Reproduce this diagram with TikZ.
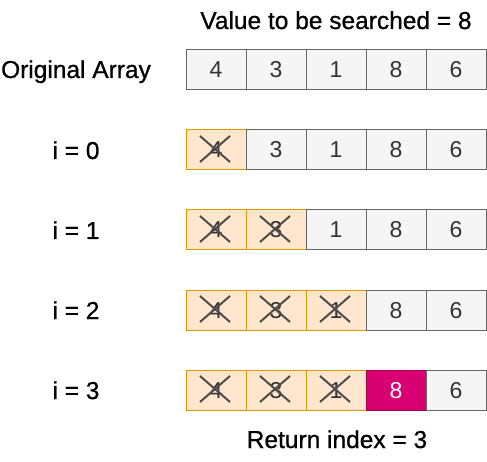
\documentclass[tikz,border=0pt]{standalone}
\usepackage{fontspec}
\setmainfont{Liberation Sans}
\newfontfamily\labelfont[FakeBold=0.8]{Liberation Sans}
\definecolor{gfill}{HTML}{F5F5F5}
\definecolor{gline}{HTML}{666666}
\definecolor{gtext}{HTML}{333333}
\definecolor{ofill}{HTML}{FFE6CC}
\definecolor{oline}{HTML}{D79B00}
\definecolor{pfill}{HTML}{D80073}
\definecolor{pline}{HTML}{A50040}
\definecolor{xline}{HTML}{4D4D4D}
\tikzset{
  cellbox/.style={draw=gline, fill=gfill, line width=1pt},
  donebox/.style={draw=oline, fill=ofill, line width=1pt},
  foundbox/.style={draw=pline, fill=pfill, line width=1pt},
  digit/.style={anchor=base, font=\fontsize{23}{26}\selectfont, text=gtext, inner sep=0pt},
  label/.style={anchor=base, font=\labelfont\fontsize{24.5}{28}\selectfont, text=black, inner sep=0pt},
  crossline/.style={draw=xline, line width=2pt},
}
\begin{document}
\begin{tikzpicture}[x=1pt,y=-1pt]
\useasboundingbox (0,0) rectangle (487,462);
\node[label] (title) at (336,29) {Value to be searched = 8};
\node[label] (orig) at (76,78) {Original Array};
\node[label] (ret) at (337,448) {Return index = 3};
% rows
\foreach \r/\lab in {0/Original Array, 1/{i = 0}, 2/{i = 1}, 3/{i = 2}, 4/{i = 3}} {
  \pgfmathsetmacro{\yt}{50+80*\r}
  \pgfmathtruncatemacro{\ncross}{min(\r,3)}
  \ifnum\r>0
    \node[label] (lab\r) at (76,\yt+29) {\lab};
  \fi
  \foreach \c/\v in {0/4,1/3,2/1,3/8,4/6} {
    \pgfmathsetmacro{\xl}{186+60*\c}
    \ifnum\c<\ncross
      \path[donebox] (\xl,\yt) rectangle ++(60,40);
      \node[digit] (d\r\c) at (\xl+30,\yt+28) {\v};
      \draw[crossline] (\xl+14,\yt+6) -- (\xl+44,\yt+32);
      \draw[crossline] (\xl+44,\yt+6) -- (\xl+14,\yt+32);
    \else
      \ifnum\r=4 \ifnum\c=3
        \path[foundbox] (\xl,\yt) rectangle ++(60,40);
        \node[digit,text=white] (d\r\c) at (\xl+30,\yt+28) {\v};
      \else
        \path[cellbox] (\xl,\yt) rectangle ++(60,40);
        \node[digit] (d\r\c) at (\xl+30,\yt+28) {\v};
      \fi
      \else
        \path[cellbox] (\xl,\yt) rectangle ++(60,40);
        \node[digit] (d\r\c) at (\xl+30,\yt+28) {\v};
      \fi
    \fi
  }
}
\end{tikzpicture}
\end{document}
